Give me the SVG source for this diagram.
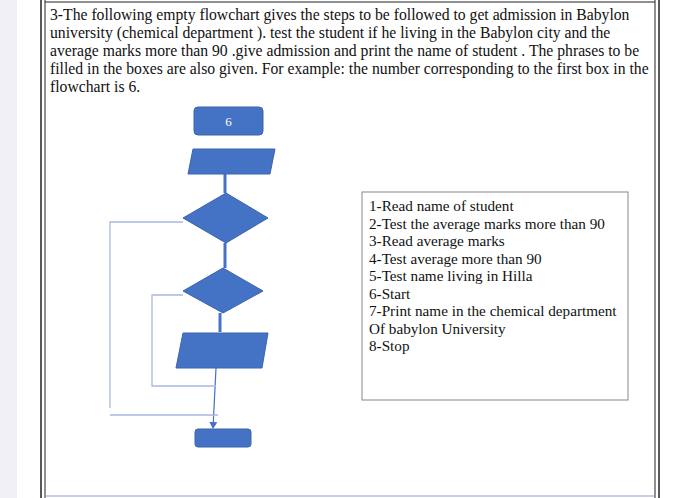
<svg xmlns="http://www.w3.org/2000/svg" width="700" height="498" viewBox="0 0 700 498">
<style>
.t{font-family:"Liberation Serif",serif;font-size:15.7px;fill:#111}
.l{font-family:"Liberation Serif",serif;font-size:15.2px;fill:#111}
.s{fill:#4472C4;stroke:#3b64ad;stroke-width:1}
.thin{stroke:#a9b9dc;stroke-width:1.3;fill:none}
.thick{stroke:#4472C4;stroke-width:3;fill:none}
</style>
<defs><marker id="a" markerWidth="8" markerHeight="8" refX="6" refY="4" orient="auto" markerUnits="userSpaceOnUse"><path d="M0,0 L7,4 L0,8z" fill="#4472C4"/></marker></defs>
<rect x="0" y="0" width="700" height="498" fill="#fff"/>
<rect x="0" y="0" width="17" height="498" fill="#f0f0f5"/>
<g id="frame" fill="none" stroke="#222">
<line x1="41" y1="0" x2="41" y2="498" stroke-width="1.5"/>
<line x1="45" y1="0" x2="45" y2="498" stroke-width="1"/>
<line x1="655" y1="0" x2="655" y2="498" stroke-width="1"/>
<line x1="659" y1="0" x2="659" y2="498" stroke-width="1.5"/>
<line x1="45" y1="2" x2="655" y2="2" stroke-width="1"/>
<line x1="46" y1="496" x2="654" y2="496" stroke="#c9cfe0" stroke-width="2"/>
</g>
<g id="header">
<text class="t" x="50" y="20">3-The following empty flowchart gives the steps to be followed to get  admission in Babylon</text>
<text class="t" x="50" y="38">university  (chemical department ). test the student if he living in the Babylon city and the</text>
<text class="t" x="50" y="56">average marks more than 90  .give admission and print the name of student . The phrases to be</text>
<text class="t" x="50" y="74">filled in the boxes are also given. For example: the number corresponding to the first box in the</text>
<text class="t" x="50" y="92">flowchart is 6.</text>
</g>
<g id="connectors">
<line class="thick" x1="225" y1="174" x2="225" y2="193"/>
<line class="thick" x1="225" y1="243" x2="225" y2="268"/>
<line class="thick" x1="220" y1="313" x2="220" y2="332"/>
<line x1="216" y1="368" x2="213" y2="428" stroke="#4472C4" stroke-width="1.2" marker-end="url(#a)"/>
<polyline class="thin" points="183,222 110,222 110,408"/>
<line class="thin" x1="110" y1="415" x2="218" y2="415"/>
<polyline class="thin" points="183,295 152,295 152,386 216,386"/>
</g>
<g id="start"><rect class="s" x="194" y="107" width="69" height="28" rx="4"/><text x="228.5" y="126" text-anchor="middle" font-family="Liberation Serif,serif" font-size="13" fill="#fff">6</text></g>
<g id="input1"><polygon class="s" points="193,149 275,149 270,174 188,174"/></g>
<g id="decision1"><polygon class="s" points="226,193 268,218 226,243 183,218"/></g>
<g id="decision2"><polygon class="s" points="223,268 263,291 223,313 183,291"/></g>
<g id="output"><polygon class="s" points="183,333 268,333 262,368 176,368"/></g>
<g id="stop"><rect class="s" x="195" y="429" width="56" height="18" rx="3"/></g>
<g id="legend">
<rect x="362" y="192" width="266" height="208" fill="#fff" stroke="#888" stroke-width="1"/>
<text class="l" x="369" y="211">1-Read name of student</text>
<text class="l" x="369" y="228.5">2-Test the average marks more than 90</text>
<text class="l" x="369" y="246">3-Read average marks</text>
<text class="l" x="369" y="263.5">4-Test average more than 90</text>
<text class="l" x="369" y="281">5-Test name living in Hilla</text>
<text class="l" x="369" y="298.5">6-Start</text>
<text class="l" x="369" y="316">7-Print name in the chemical department</text>
<text class="l" x="369" y="333.5">Of babylon University</text>
<text class="l" x="369" y="351">8-Stop</text>
</g>
</svg>
